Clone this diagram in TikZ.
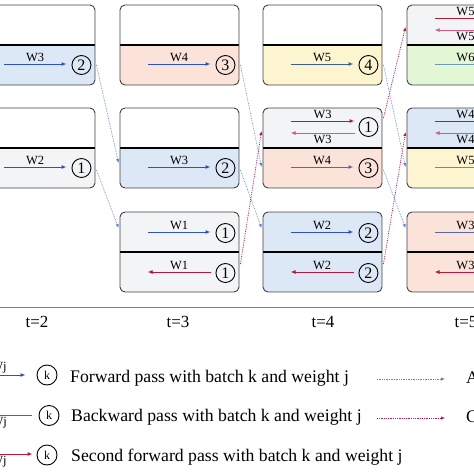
\documentclass[tikz,border=0pt]{standalone}
\usepackage{fontspec}
\setmainfont{Liberation Serif}
\usetikzlibrary{arrows.meta,calc,positioning}

\definecolor{fillblue}{HTML}{DDE8F7}
\definecolor{fillpink}{HTML}{FBE3DA}
\definecolor{fillyel}{HTML}{FDF5D0}
\definecolor{fillgray}{HTML}{F3F4F5}
\definecolor{fillgreen}{HTML}{E4F7D5}
\definecolor{fwdblue}{HTML}{2A52C4}
\definecolor{bwdred}{HTML}{B8163C}
\definecolor{bwdpink}{HTML}{D9588A}
\definecolor{dullblue}{HTML}{5A68A8}
\definecolor{steelblue}{HTML}{3C5E96}
\definecolor{tealgray}{HTML}{6C9AB4}
\definecolor{greyline}{HTML}{7E8590}
\definecolor{actblue}{HTML}{5B86D2}
\definecolor{gradred}{HTML}{A8245A}

\begin{document}
\begin{tikzpicture}[x=1pt, y=-1pt,
    slot/.style 2 args={draw=black!75, line width=0.9pt, rounded corners=5pt,
      minimum width=119pt, minimum height=80pt, inner sep=0pt,
      path picture={
        \fill[#1, sharp corners] (path picture bounding box.north west) rectangle (path picture bounding box.east);
        \fill[#2, sharp corners] (path picture bounding box.west) rectangle (path picture bounding box.south east);
        \draw[black, line width=1.4pt, sharp corners] (path picture bounding box.west) -- (path picture bounding box.east);}},
    batch/.style={circle, draw, line width=0.9pt, inner sep=0pt, minimum size=19pt, font=\fontsize{16}{16}\selectfont},
    kcirc/.style={circle, draw, line width=0.9pt, inner sep=0pt, minimum size=20pt, font=\fontsize{12}{12}\selectfont},
    wlab/.style={text=black, font=\fontsize{12.5}{13}\selectfont, inner sep=1.5pt},
    fwd/.style={fwdblue, line width=1pt, -{Latex[length=5pt,width=4pt]}},
    bwd/.style={bwdred, line width=1pt, -{Latex[length=5pt,width=4pt]}},
    act/.style={actblue, line width=0.7pt, densely dotted, -{Latex[length=4pt,width=3.5pt]}},
    grad/.style={gradred, line width=0.8pt, densely dotted, -{Latex[length=4pt,width=3.5pt]}},
    tlab/.style={font=\fontsize{17}{17}\selectfont, anchor=base},
    legtext/.style={font=\fontsize{17.7}{18}\selectfont, anchor=base west, inner sep=0pt}]
  \useasboundingbox (0,0) rectangle (474,474);
  \clip (0,0) rectangle (474,474);

  % the slots
  \node[slot={white}{fillblue}] (b21) at (35.5,45) {};
  \node[slot={white}{fillgray}] (b22) at (35.5,148) {};
  \node[slot={white}{fillpink}] (b31) at (179.5,45) {};
  \node[slot={white}{fillblue}] (b32) at (179.5,148) {};
  \node[slot={fillgray}{fillgray}] (b33) at (179.5,252) {};
  \node[slot={white}{fillyel}] (b41) at (322.5,45) {};
  \node[slot={fillgray}{fillpink}] (b42) at (322.5,148) {};
  \node[slot={fillblue}{fillblue}] (b43) at (322.5,252) {};
  \node[slot={fillgray}{fillgreen}] (b51) at (466.5,45) {};
  \node[slot={fillblue}{fillyel}] (b52) at (466.5,148) {};
  \node[slot={fillpink}{fillpink}] (b53) at (466.5,252) {};

  % t=2
  \node[batch] (k21) at ($(b21.east)+(-14,20)$) {2};
  \draw[fwd] ($(b21.west)+(28,19)$) -- node[wlab,above]{W3} ($(k21.west)+(-5,-1)$);
  \node[batch] (k22) at ($(b22.east)+(-14,20)$) {1};
  \draw[fwd] ($(b22.west)+(28,19)$) -- node[wlab,above]{W2} ($(k22.west)+(-5,-1)$);
  % t=3
  \node[batch] (k31) at ($(b31.east)+(-14,20)$) {3};
  \draw[fwd] ($(b31.west)+(28,19)$) -- node[wlab,above]{W4} ($(k31.west)+(-5,-1)$);
  \node[batch] (k32) at ($(b32.east)+(-14,20)$) {2};
  \draw[fwd] ($(b32.west)+(28,19)$) -- node[wlab,above]{W3} ($(k32.west)+(-5,-1)$);
  \node[batch] (k33a) at ($(b33.east)+(-14,-19)$) {1};
  \draw[fwd] ($(b33.west)+(28,-20)$) -- node[wlab,above]{W1} ($(k33a.west)+(-5,-1)$);
  \node[batch] (k33b) at ($(b33.east)+(-14,21)$) {1};
  \draw[bwd] ($(k33b.west)+(-5,-1)$) -- node[wlab,above]{W1} ($(b33.west)+(28,20)$);
  % t=4
  \node[batch] (k41) at ($(b41.east)+(-14,20)$) {4};
  \draw[fwd, steelblue] ($(b41.west)+(28,19)$) -- node[wlab,above]{W5} ($(k41.west)+(-5,-1)$);
  \node[batch] (k42a) at ($(b42.east)+(-14,-21)$) {1};
  \draw[bwd] ($(b42.west)+(28,-27)$) -- node[wlab,above]{W3} ($(k42a.west)+(-4,-6)$);
  \draw[bwd, bwdpink] ($(k42a.west)+(-4,6)$) -- node[wlab,below]{W3} ($(b42.west)+(28,-15)$);
  \node[batch] (k42b) at ($(b42.east)+(-14,20)$) {3};
  \draw[fwd, dullblue] ($(b42.west)+(28,19)$) -- node[wlab,above]{W4} ($(k42b.west)+(-5,-1)$);
  \node[batch] (k43a) at ($(b43.east)+(-14,-19)$) {2};
  \draw[fwd] ($(b43.west)+(28,-20)$) -- node[wlab,above]{W2} ($(k43a.west)+(-5,-1)$);
  \node[batch] (k43b) at ($(b43.east)+(-14,21)$) {2};
  \draw[bwd] ($(k43b.west)+(-5,-1)$) -- node[wlab,above]{W2} ($(b43.west)+(28,20)$);
  % t=5
  \draw[bwd] ($(b51.west)+(28,-27)$) -- node[wlab,above]{W5} ($(b51.east)+(-30,-27)$);
  \draw[bwd, bwdpink] ($(b51.east)+(-30,-15)$) -- node[wlab,below]{W5} ($(b51.west)+(28,-15)$);
  \draw[fwd, tealgray] ($(b51.west)+(28,19)$) -- node[wlab,above]{W6} ($(b51.east)+(-30,19)$);
  \draw[bwd] ($(b52.west)+(28,-27)$) -- node[wlab,above]{W4} ($(b52.east)+(-30,-27)$);
  \draw[bwd, bwdpink] ($(b52.east)+(-30,-15)$) -- node[wlab,below]{W4} ($(b52.west)+(28,-15)$);
  \draw[fwd, greyline] ($(b52.west)+(28,19)$) -- node[wlab,above]{W5} ($(b52.east)+(-30,19)$);
  \draw[fwd, dullblue] ($(b53.west)+(28,-20)$) -- node[wlab,above]{W3} ($(b53.east)+(-30,-20)$);
  \draw[bwd] ($(b53.east)+(-30,20)$) -- node[wlab,above]{W3} ($(b53.west)+(28,20)$);

  % activations and gradients
  \draw[act] ($(b21.east)+(1,20)$) -- ($(b32.west)+(-1,15)$);
  \draw[act] ($(b22.east)+(1,22)$) -- ($(b33.west)+(-1,-24)$);
  \draw[act] ($(b31.east)+(1,20)$) -- ($(b42.west)+(-1,19)$);
  \draw[act] ($(b32.east)+(1,22)$) -- ($(b43.west)+(-1,-24)$);
  \draw[act] ($(b41.east)+(1,20)$) -- ($(b52.west)+(-1,19)$);
  \draw[act] ($(b42.east)+(1,22)$) -- ($(b53.west)+(-1,-24)$);
  \draw[grad] ($(b33.east)+(1,12)$) -- ($(b42.west)+(-1,-17)$);
  \draw[grad] ($(b42.east)+(1,-30)$) -- ($(b51.west)+(-1,-18)$);
  \draw[grad] ($(b43.east)+(1,12)$) -- ($(b52.west)+(-1,-16)$);

  % time axis
  \draw[gray, line width=0.8pt] (0,307) -- (474,307);
  \node[tlab] (t2) at (37,327) {t=2};
  \node[tlab] (t3) at (178,327) {t=3};
  \node[tlab] (t4) at (323,327) {t=4};
  \node[tlab] (t5) at (466,327) {t=5};

  % legend
  \node[kcirc] (kf) at (47,375) {k};
  \draw[fwd] (-10,375) -- node[wlab,above,pos=0.25]{Wj} ($(kf.west)+(-11,0)$);
  \node[legtext] (lf) at (70,382) {Forward pass with batch k and weight j};
  \node[kcirc] (kb) at (49,415.5) {k};
  \draw[bwd, bwdred!85] ($(kb.west)+(-7,0)$) -- node[wlab,below,pos=0.78]{Wj} (-10,415.5);
  \node[legtext] (lb) at (71,421) {Backward pass with batch k and weight j};
  \node[kcirc] (ks) at (47,455) {k};
  \draw[bwd] (-10,454) -- node[wlab,below,pos=0.21]{Wj} ($(ks.west)+(-4,-1)$);
  \node[legtext] (ls) at (71,461) {Second forward pass with batch k and weight j};
  \draw[act] (377,379) -- (445,379);
  \node[legtext] (la) at (466,383) {Activation};
  \draw[grad] (377,418) -- (445,418);
  \node[legtext] (lg) at (466,422) {Gradient};
\end{tikzpicture}
\end{document}
